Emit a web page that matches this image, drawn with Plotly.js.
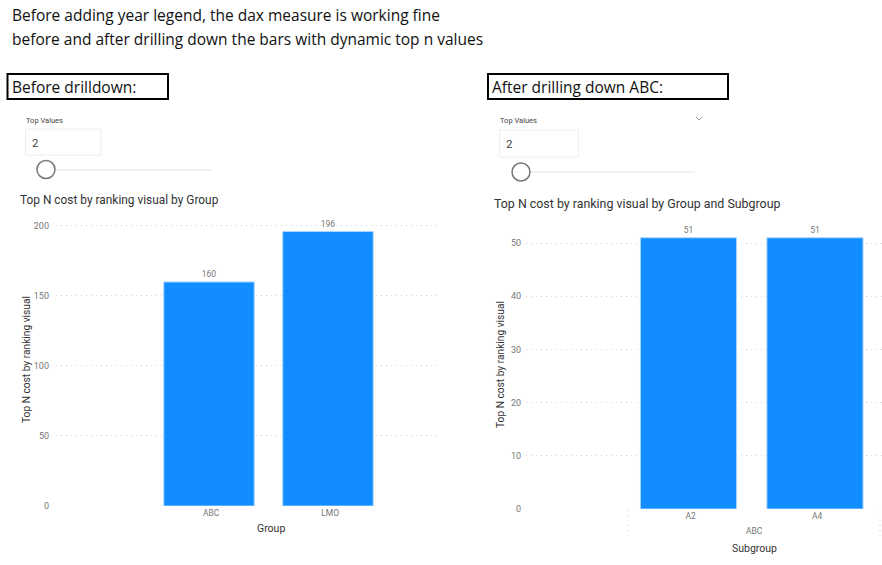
<!DOCTYPE html>
<html>
<head>
<meta charset="utf-8">
<script src="https://cdn.plot.ly/plotly-3.0.1.min.js"></script>
<style>html,body{margin:0;padding:0;background:#fff}</style>
</head>
<body>
<div id="chart" style="width:882px;height:565px"></div>
<script>
const groups = ['ABC', 'LMO'];
const groupCost = [160, 196];
const subgroups = ['A2', 'A4'];
const subgroupCost = [51, 51];
const groupTicks = [0, 50, 100, 150, 200];
const subgroupTicks = [0, 10, 20, 30, 40, 50];

const W = 882, H = 565;
const px = x => x / W;
const py = y => 1 - y / H;
const barBlue = '#118DFF';
const barEdge = '#A9D5FF';
const gridGrey = '#d2d2d2';
const gridDash = '1px,4px';
const labelFont = 'Roboto, sans-serif';
const noteFont = '"Open Sans", sans-serif';

function barTrace(x, y, xa, ya) {
  return {
    type: 'bar', x: x, y: y, xaxis: xa, yaxis: ya, width: 0.76,
    marker: {color: barBlue, line: {color: barEdge, width: 1}},
    text: y.map(String), textposition: 'outside', cliponaxis: false,
    textfont: {family: labelFont, size: 8.5, color: '#777'},
    hoverinfo: 'x+y'
  };
}

function yAxis(dom, range, ticks, anchor, standoff) {
  return {
    domain: [py(dom[1]), py(dom[0])], range: range, anchor: anchor,
    tickvals: ticks, ticks: '', zeroline: false, showline: false, ticklabelstandoff: standoff,
    gridcolor: gridGrey, griddash: gridDash, gridwidth: 1,
    tickfont: {family: labelFont, size: 9, color: '#777'}
  };
}

function xAxis(dom, range, anchor) {
  return {
    domain: [px(dom[0]), px(dom[1])], range: range, anchor: anchor, type: 'category',
    ticks: '', showline: false, showgrid: false, zeroline: false, tickprefix: '\u00a0\u00a0',
    tickfont: {family: labelFont, size: 8.5, color: '#777'}
  };
}

function note(text, x, y, size, color, family, anchor, angle) {
  return {text: text, xref: 'paper', yref: 'paper', x: px(x), y: py(y), showarrow: false,
    xanchor: anchor || 'left', yanchor: 'middle', textangle: angle || 0,
    font: {family: family, size: size, color: color}};
}

function rect(x0, y0, x1, y1, color, width) {
  return {type: 'rect', xref: 'paper', yref: 'paper', x0: px(x0), x1: px(x1), y0: py(y0), y1: py(y1),
    line: {color: color, width: width}};
}

function seg(x0, y0, x1, y1, color, width, dash) {
  return {type: 'line', xref: 'paper', yref: 'paper', x0: px(x0), x1: px(x1), y0: py(y0), y1: py(y1),
    line: {color: color, width: width, dash: dash || 'solid'}};
}

function knob(cx, cy) {
  return {type: 'circle', xref: 'paper', yref: 'paper', x0: px(cx - 9), x1: px(cx + 9),
    y0: py(cy + 9), y1: py(cy - 9), fillcolor: '#fff', line: {color: '#777', width: 1.5}};
}

const layout = {
  width: W, height: H, margin: {l: 0, r: 0, t: 0, b: 0},
  paper_bgcolor: '#fff', plot_bgcolor: '#fff', showlegend: false,
  xaxis: xAxis([56, 441], [-1.286, 1.95], 'y'),
  yaxis: yAxis([210, 506], [0, 211.4], groupTicks, 'x', 6),
  xaxis2: xAxis([526, 882], [-1.285, 1.53], 'y2'),
  yaxis2: yAxis([225, 509], [0, 53.4], subgroupTicks, 'x2', 4),
  shapes: [
    rect(7.5, 74, 168, 99, '#000', 2),
    rect(488, 74, 728, 99, '#000', 2),
    rect(25.5, 129, 101, 155, '#eeeeee', 1),
    rect(499.5, 130, 578.5, 157, '#eeeeee', 1),
    seg(56, 170, 212, 170, '#f0f0f0', 2),
    seg(530, 172, 695, 172, '#f0f0f0', 2),
    knob(46, 169.5),
    knob(521, 172),
    seg(696, 117, 699, 120, '#999', 1),
    seg(699, 120, 702, 117, '#999', 1),
    seg(628, 510, 628, 538, gridGrey, 1, gridDash),
    seg(880, 510, 880, 538, gridGrey, 1, gridDash)
  ],
  annotations: [
    note('Before adding year legend, the dax measure is working fine', 10, 15, 15.5, '#111', noteFont),
    note('before and after drilling down the bars with dynamic top n values', 10, 39, 15.5, '#111', noteFont),
    note('Before drilldown:', 10, 87, 15.5, '#111', noteFont),
    note('After drilling down ABC:', 490, 87, 15.5, '#111', noteFont),
    note('Top Values', 24, 120, 7.5, '#444', labelFont),
    note('Top Values', 498, 120, 7.5, '#444', labelFont),
    note('2', 30, 143, 11.5, '#444', labelFont),
    note('2', 504, 144, 11.5, '#444', labelFont),
    note('Top N cost by ranking visual by Group', 18, 199.5, 11.9, '#333', labelFont),
    note('Top N cost by ranking visual by Group and Subgroup', 492, 204, 12.4, '#333', labelFont),
    note('Top N cost by ranking visual', 26, 360, 10.2, '#333', labelFont, 'center', -90),
    note('Top N cost by ranking visual', 500, 365, 10.2, '#333', labelFont, 'center', -90),
    note('Group', 271, 528, 10.5, '#333', labelFont, 'center'),
    note('ABC', 754, 531, 8.5, '#777', labelFont, 'center'),
    note('Subgroup', 754, 548, 10.5, '#333', labelFont, 'center')
  ]
};

const traces = [
  barTrace(groups, groupCost, 'x', 'y'),
  barTrace(subgroups, subgroupCost, 'x2', 'y2')
];

Plotly.newPlot('chart', traces, layout, {displayModeBar: false, responsive: false});
</script>
</body>
</html>
